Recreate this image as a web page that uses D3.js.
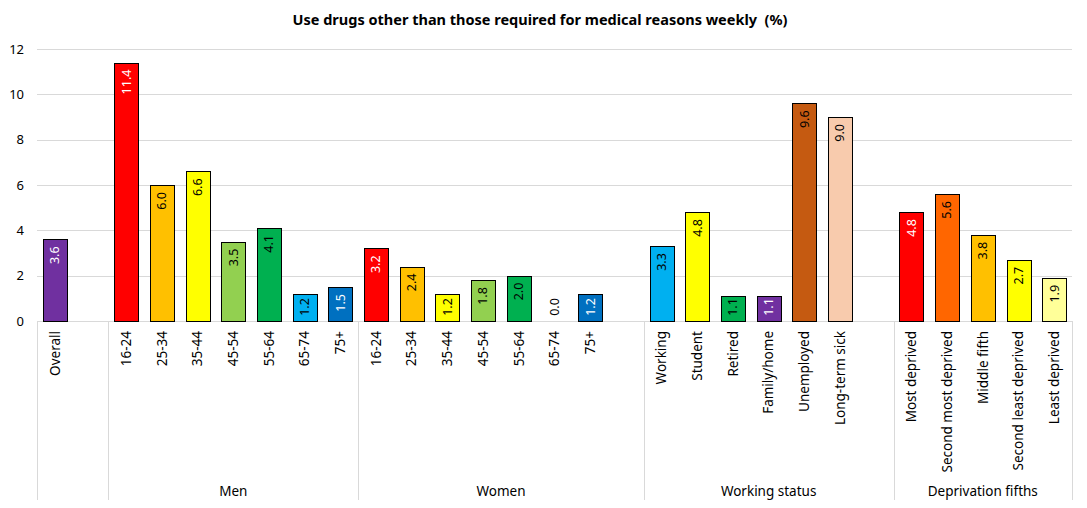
<!DOCTYPE html>
<html>
<head>
<meta charset="utf-8">
<script src="https://cdn.jsdelivr.net/npm/d3@7"></script>
<style>
  body { margin: 0; background: #fff; }
  svg text { font-family: "Noto Sans", "Open Sans", sans-serif; }
</style>
</head>
<body>
<div id="chart"></div>
<script>
const title = "Use drugs other than those required for medical reasons weekly  (%)";

// categories per group (blank slots are the gaps Excel keeps)
const overallLabels = ["Overall", ""];
const overallValues = [3.6, null];
const menLabels = ["16-24", "25-34", "35-44", "45-54", "55-64", "65-74", "75+"];
const menValues = [11.4, 6.0, 6.6, 3.5, 4.1, 1.2, 1.5];
const womenLabels = ["16-24", "25-34", "35-44", "45-54", "55-64", "65-74", "75+", ""];
const womenValues = [3.2, 2.4, 1.2, 1.8, 2.0, 0.0, 1.2, null];
const workLabels = ["Working", "Student", "Retired", "Family/home", "Unemployed", "Long-term sick", ""];
const workValues = [3.3, 4.8, 1.1, 1.1, 9.6, 9.0, null];
const depLabels = ["Most deprived", "Second most deprived", "Middle fifth", "Second least deprived", "Least deprived"];
const depValues = [4.8, 5.6, 3.8, 2.7, 1.9];
const groupNames = ["", "Men", "Women", "Working status", "Deprivation fifths"];
const yTicks = [0, 2, 4, 6, 8, 10, 12];

const ageColors = ["#FF0000", "#FFC000", "#FFFF00", "#92D050", "#00B050", "#00B0F0", "#0070C0"];
const overallColors = ["#7030A0", null];
const womenColors = ageColors.concat([null]);
const workColors = ["#00B0F0", "#FFFF00", "#00B050", "#7030A0", "#C55A11", "#F8CBAD", null];
const depColors = ["#FF0000", "#FF6600", "#FFC000", "#FFFF00", "#FFFF99"];
const whiteLabelFills = ["#FF0000", "#7030A0", "#0070C0"];

const width = 1087, height = 508;
const margin = { left: 37, right: 15, top: 49, bottom: 187 };

const groupDefs = [
  [overallLabels, overallValues, overallColors],
  [menLabels, menValues, ageColors],
  [womenLabels, womenValues, womenColors],
  [workLabels, workValues, workColors],
  [depLabels, depValues, depColors]
];

const slots = [];
const groupSpans = [];
groupDefs.forEach(([labels, values, colors], gi) => {
  const start = slots.length;
  labels.forEach((lab, i) => {
    slots.push({ id: slots.length, label: lab, value: values[i], color: colors[i], group: gi });
  });
  groupSpans.push({ name: groupNames[gi], start, end: slots.length });
});

const svg = d3.select("#chart").append("svg")
  .attr("width", width).attr("height", height);

const x = d3.scaleBand()
  .domain(slots.map(d => d.id))
  .range([margin.left, width - margin.right])
  .paddingInner(0.33)
  .paddingOuter(0.165);

const y = d3.scaleLinear()
  .domain([0, 12])
  .range([height - margin.bottom, margin.top]);

const y0 = y(0);

// gridlines
svg.append("g")
  .selectAll("line")
  .data(yTicks.filter(t => t > 0))
  .join("line")
  .attr("x1", margin.left).attr("x2", width - margin.right)
  .attr("y1", d => Math.round(y(d)) + 0.5).attr("y2", d => Math.round(y(d)) + 0.5)
  .attr("stroke", "#d9d9d9");

// y axis labels
svg.append("g")
  .selectAll("text")
  .data(yTicks)
  .join("text")
  .attr("x", 24)
  .attr("y", d => y(d))
  .attr("dy", "0.35em")
  .attr("text-anchor", "end")
  .attr("font-size", 13)
  .attr("fill", "#000")
  .text(d => d);

// category axis line + group separators
svg.append("line")
  .attr("x1", margin.left).attr("x2", width - margin.right)
  .attr("y1", Math.round(y0) + 0.5).attr("y2", Math.round(y0) + 0.5)
  .attr("stroke", "#d9d9d9");

const step = x.step();
const slotStart = i => x(i) - step * x.paddingInner() / 2;
const bounds = groupSpans.map(g => slotStart(g.start)).concat([width - margin.right]);
svg.append("g")
  .selectAll("line")
  .data(bounds)
  .join("line")
  .attr("x1", d => Math.round(d) + 0.5).attr("x2", d => Math.round(d) + 0.5)
  .attr("y1", y0).attr("y2", 500)
  .attr("stroke", "#d9d9d9");

// bars
const barData = slots.filter(d => d.value !== null);
svg.append("g")
  .selectAll("rect")
  .data(barData.filter(d => d.value > 0))
  .join("rect")
  .attr("x", d => Math.round(x(d.id)) + 0.5)
  .attr("y", d => Math.round(y(d.value)) + 0.5)
  .attr("width", Math.round(x.bandwidth()))
  .attr("height", d => Math.round(y0) - Math.round(y(d.value)))
  .attr("fill", d => d.color)
  .attr("stroke", "#000")
  .attr("stroke-width", 1);

// value labels (rotated, inside end)
const labelLen = s => s.length * 6.6;
svg.append("g")
  .selectAll("text")
  .data(barData)
  .join("text")
  .attr("transform", d => {
    const s = d.value.toFixed(1);
    const top = Math.min(y(d.value) + 7, y0 - 3 - labelLen(s));
    return `translate(${x(d.id) + x.bandwidth() / 2},${top}) rotate(-90)`;
  })
  .attr("text-anchor", "end")
  .attr("dy", "0.35em")
  .attr("font-size", 12.5)
  .attr("fill", d => (d.value > 0 && whiteLabelFills.includes(d.color)) ? "#fff" : "#000")
  .text(d => d.value.toFixed(1));

// category labels
svg.append("g")
  .selectAll("text")
  .data(slots.filter(d => d.label))
  .join("text")
  .attr("transform", d => `translate(${x(d.id) + x.bandwidth() / 2},${y0 + 10}) rotate(-90)`)
  .attr("text-anchor", "end")
  .attr("dy", "0.35em")
  .attr("font-size", 13.5)
  .attr("fill", "#000")
  .text(d => d.label);

// group labels
svg.append("g")
  .selectAll("text")
  .data(groupSpans.filter(g => g.name))
  .join("text")
  .attr("x", g => (slotStart(g.start) + (g.end < slots.length ? slotStart(g.end) : width - margin.right)) / 2)
  .attr("y", 496)
  .attr("text-anchor", "middle")
  .attr("font-size", 13.5)
  .attr("fill", "#000")
  .text(g => g.name);

// title
svg.append("text")
  .attr("x", 540)
  .attr("y", 25)
  .attr("text-anchor", "middle")
  .attr("font-size", 14)
  .attr("font-weight", "bold")
  .attr("textLength", 495)
  .attr("lengthAdjust", "spacingAndGlyphs")
  .style("white-space", "pre")
  .attr("fill", "#000")
  .text(title);
</script>
</body>
</html>
